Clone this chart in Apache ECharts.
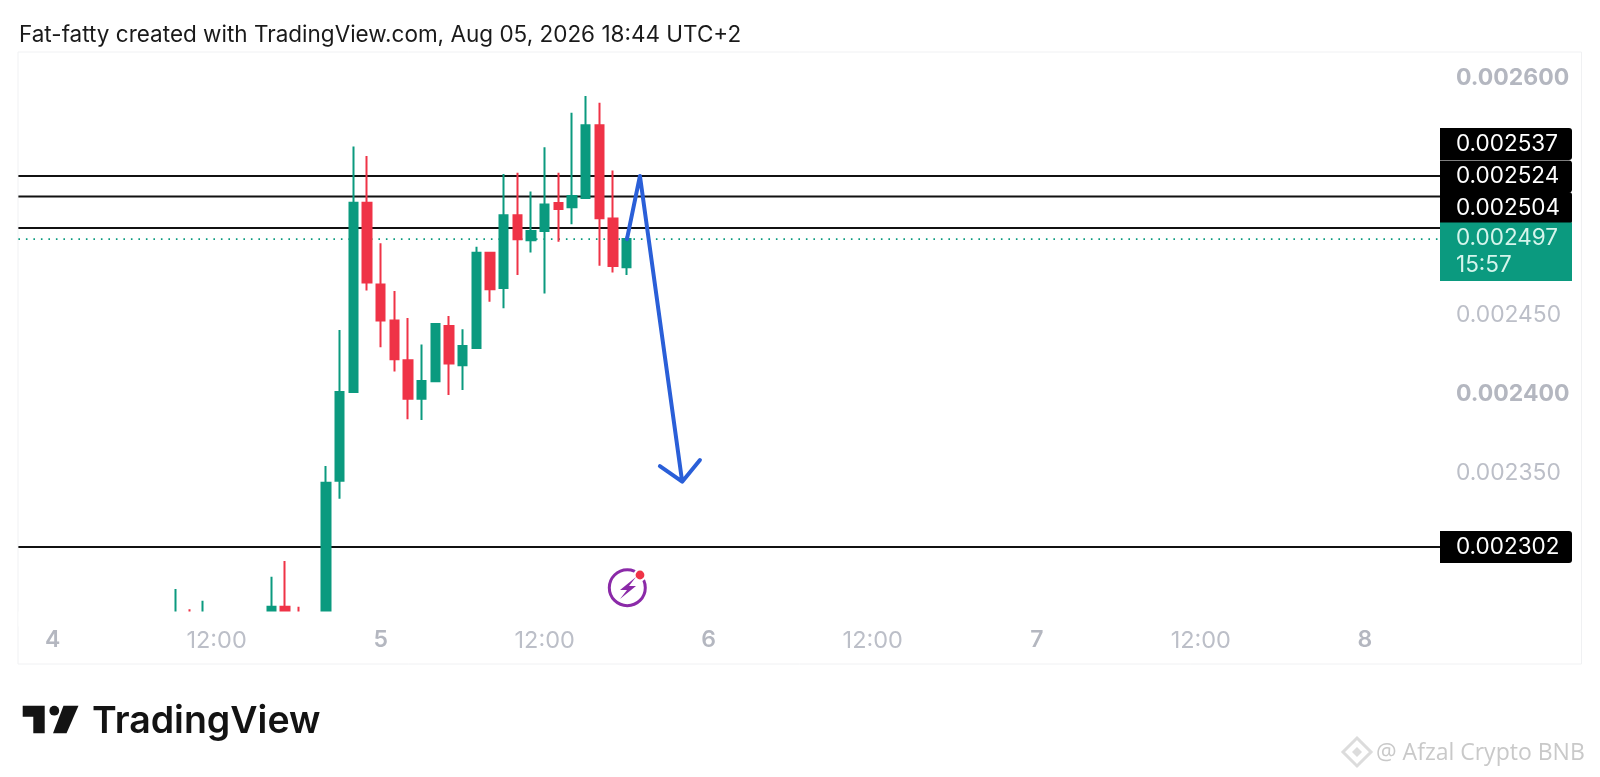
<!DOCTYPE html>
<html><head><meta charset="utf-8">
<style>html,body{margin:0;padding:0;background:#fff}#c{width:1600px;height:777px}</style>
<script src="https://cdn.jsdelivr.net/npm/echarts@6/dist/echarts.min.js"></script>
</head><body><div id="c"></div>
<script>
const headerText = 'Fat-fatty created with TradingView.com, Aug 05, 2026 18:44 UTC+2';
const dayStart = 3, hourStart = 22, slotCount = 104;
const candleSlots = [11,12,13,18,19,20,22,23,24,25,26,27,28,29,30,31,32,33,34,35,36,37,38,39,40,41,42,43,44];
const opens  = [0.0022560,0.0022580,0.0022560,0.0022570,0.0022642,0.0022590,0.0022550,0.0023440,0.0024002,0.0025201,0.0024682,0.0024454,0.0024203,0.0023960,0.0024070,0.0024420,0.0024171,0.0024281,0.0024884,0.0024661,0.0025121,0.0024963,0.0025022,0.0025199,0.0025172,0.0025231,0.0025691,0.0025100,0.0024792];
const closes = [0.0022580,0.0022560,0.0022580,0.0022642,0.0022570,0.0022570,0.0023427,0.0024002,0.0025201,0.0024695,0.0024454,0.0024209,0.0023960,0.0024072,0.0024433,0.0024182,0.0024293,0.0024884,0.0024652,0.0025121,0.0024969,0.0025022,0.0025190,0.0025161,0.0025243,0.0025691,0.0025102,0.0024800,0.0024971];
const lows   = [0.0022560,0.0022560,0.0022560,0.0022570,0.0022570,0.0022570,0.0022550,0.0023326,0.0024000,0.0024644,0.0024285,0.0024131,0.0023829,0.0023825,0.0024068,0.0023983,0.0024015,0.0024280,0.0024574,0.0024532,0.0024743,0.0024885,0.0024625,0.0024954,0.0025064,0.0025230,0.0024802,0.0024758,0.0024743];
const highs  = [0.0022755,0.0022627,0.0022680,0.0022832,0.0022932,0.0022642,0.0023533,0.0024395,0.0025556,0.0025497,0.0024944,0.0024642,0.0024471,0.0024302,0.0024435,0.0024483,0.0024399,0.0024922,0.0024886,0.0025383,0.0025391,0.0025271,0.0025552,0.0025391,0.0025771,0.0025877,0.0025834,0.0025404,0.0024986];
const levelValues = [0.002537,0.002524,0.002504,0.002302];
const levelOffsets = [-32,-20,-20,0];
const lastPrice = 0.002497, countdown = '15:57';
const priceTicks = [0.00235,0.0024,0.00245,0.0026];
const boldPriceTicks = [0.0024,0.0026];
const arrowSlots  = [44.52,45.47,48.56,46.93,48.56,49.86];
const arrowPrices = [0.002497,0.002537,0.0023434,0.0023533,0.0023434,0.0023571];

const categories = [];
for (let i = 0; i < slotCount; i++) {
  const t = hourStart + i;
  categories.push((dayStart + Math.floor(t / 24)) + '|' + (t % 24));
}
const candleData = categories.map(() => '-');
candleSlots.forEach((s, i) => { candleData[s] = [opens[i], closes[i], lows[i], highs[i]]; });

const UI = 'Inter, Roboto, sans-serif';
const GREEN = '#0b9a7f', RED = '#ef3347';

const levelSeries = levelValues.map((v, i) => ({
  type: 'line', xAxisIndex: 1, data: [[0, v], [slotCount, v]], symbol: 'none', z: 1, silent: true, clip: false,
  lineStyle: {color: '#111', width: 2},
  endLabel: {show: true, distance: 0, offset: [0, levelOffsets[i]], formatter: () => v.toFixed(6),
    color: '#fff', fontFamily: UI, fontSize: 22.5, backgroundColor: '#000',
    width: 116, height: 30, lineHeight: 30, padding: [2, 0, 0, 16], align: 'left', verticalAlign: 'middle', borderRadius: [0, 3, 3, 0]}
}));
const lastPriceSeries = {
  type: 'line', xAxisIndex: 1, data: [[0, lastPrice], [slotCount, lastPrice]], symbol: 'none', z: 1, silent: true, clip: false,
  lineStyle: {color: GREEN, width: 1.6, type: [1.6, 5.9]},
  endLabel: {show: true, distance: 0, offset: [0, 12.5], formatter: () => lastPrice.toFixed(6) + '\n' + countdown,
    color: '#d5f5ec', fontFamily: UI, fontSize: 22.5, backgroundColor: GREEN,
    width: 116, lineHeight: 26.5, padding: [5.5, 0, 0, 16], align: 'left', verticalAlign: 'middle'}
};

const chart = echarts.init(document.getElementById('c'), null, {renderer: 'canvas'});
chart.setOption({
  animation: false,
  backgroundColor: '#fff',
  title: {text: headerText, left: 19, top: 24, padding: 0,
    textStyle: {fontFamily: UI, fontWeight: 400, fontSize: 22.5, color: '#1a1a1a'}},
  grid: {left: 18.4, right: 160, top: 52, bottom: 165.5},
  xAxis: [
    {type: 'category', data: categories, boundaryGap: true, z: 8,
      axisLine: {show: false}, axisTick: {show: false}, splitLine: {show: false},
      axisLabel: {
        margin: 17, interval: (i, v) => +v.split('|')[1] % 12 === 0,
        formatter: v => { const [d, h] = v.split('|'); return +h === 0 ? '{d|' + d + '}' : '{h|12:00}'; },
        rich: {
          d: {fontFamily: UI, fontSize: 23, fontWeight: 600, color: '#b4b7c0'},
          h: {fontFamily: UI, fontSize: 23.5, color: '#bcbfc8'}
        }
      }},
    {type: 'value', min: 0, max: slotCount, show: false, splitLine: {show: false}}
  ],
  yAxis: {type: 'value', position: 'right', min: 0.0022612, max: 0.0026155, scale: true,
    axisLine: {show: false}, axisTick: {show: false}, splitLine: {show: false},
    axisLabel: {
      margin: 16, customValues: priceTicks,
      formatter: v => {
        const bold = boldPriceTicks.some(b => Math.abs(b - v) < 1e-9);
        return (bold ? '{b|' : '{n|') + v.toFixed(6) + '}';
      },
      rich: {
        b: {fontFamily: UI, fontSize: 23, fontWeight: 700, color: '#b4b7c0', padding: [4, 0, 0, 0]},
        n: {fontFamily: UI, fontSize: 22.8, color: '#bcbfc8', padding: [4, 0, 0, 0]}
      }
    }},
  series: [
    ...levelSeries,
    lastPriceSeries,
    {type: 'candlestick', data: candleData, barWidth: 9, z: 3, clip: true, silent: true,
      itemStyle: {color: GREEN, color0: RED, borderColor: GREEN, borderColor0: RED, borderWidth: 2}},
    {type: 'line', xAxisIndex: 1, data: arrowSlots.map((s, i) => [s, arrowPrices[i]]), symbol: 'none', z: 5, silent: true,
      lineStyle: {color: '#2a5fd8', width: 4, cap: 'round', join: 'round'}}
  ],
  graphic: [
    {type: 'rect', z: -1, shape: {x: 18, y: 52, width: 1563.5, height: 612}, style: {fill: 'none', stroke: '#f0f1f3', lineWidth: 1}},
    // the pane clips candles at its lower edge
    {type: 'rect', z: 6, shape: {x: 18.5, y: 611.5, width: 600, height: 15}, style: {fill: '#fff'}},
    // event marker
    {type: 'circle', shape: {cx: 627.3, cy: 587.7, r: 18}, style: {fill: 'none', stroke: '#8b2aa8', lineWidth: 3}},
    {type: 'circle', shape: {cx: 640, cy: 575, r: 6.5}, style: {fill: '#fff'}},
    {type: 'circle', shape: {cx: 640, cy: 575, r: 4.4}, style: {fill: '#ef3347'}},
    {type: 'polygon', shape: {points: [[636,577],[620,590],[627,590],[620,599],[636,586],[629,586]]}, style: {fill: '#8b2aa8'}},
    // TradingView logo
    {type: 'polygon', shape: {points: [[22.7,705.7],[44.7,705.7],[44.7,733.3],[33.3,733.3],[33.3,716.7],[22.7,716.7]]}, style: {fill: '#131313'}},
    {type: 'circle', shape: {cx: 54.3, cy: 710.7, r: 4.9}, style: {fill: '#131313'}},
    {type: 'polygon', shape: {points: [[63.5,705.7],[78.5,705.7],[66.5,733.3],[53,733.3]]}, style: {fill: '#131313'}},
    {type: 'text', style: {text: 'TradingView', x: 92, y: 722, verticalAlign: 'middle', fontFamily: UI, fontWeight: 600, fontSize: 37.5, fill: '#131313'}},
    // watermark
    {type: 'polygon', shape: {points: [[1357,738],[1371,752],[1357,766],[1343,752]]}, style: {fill: 'none', stroke: '#dcdcdc', lineWidth: 3}},
    {type: 'polygon', shape: {points: [[1357,747],[1362,752],[1357,757],[1352,752]]}, style: {fill: '#dcdcdc'}},
    {type: 'text', style: {text: '@ Afzal Crypto BNB', x: 1376, y: 753, verticalAlign: 'middle', fontFamily: '"Open Sans", sans-serif', fontSize: 23, fill: '#c9c9c9'}}
  ]
});
</script></body></html>
